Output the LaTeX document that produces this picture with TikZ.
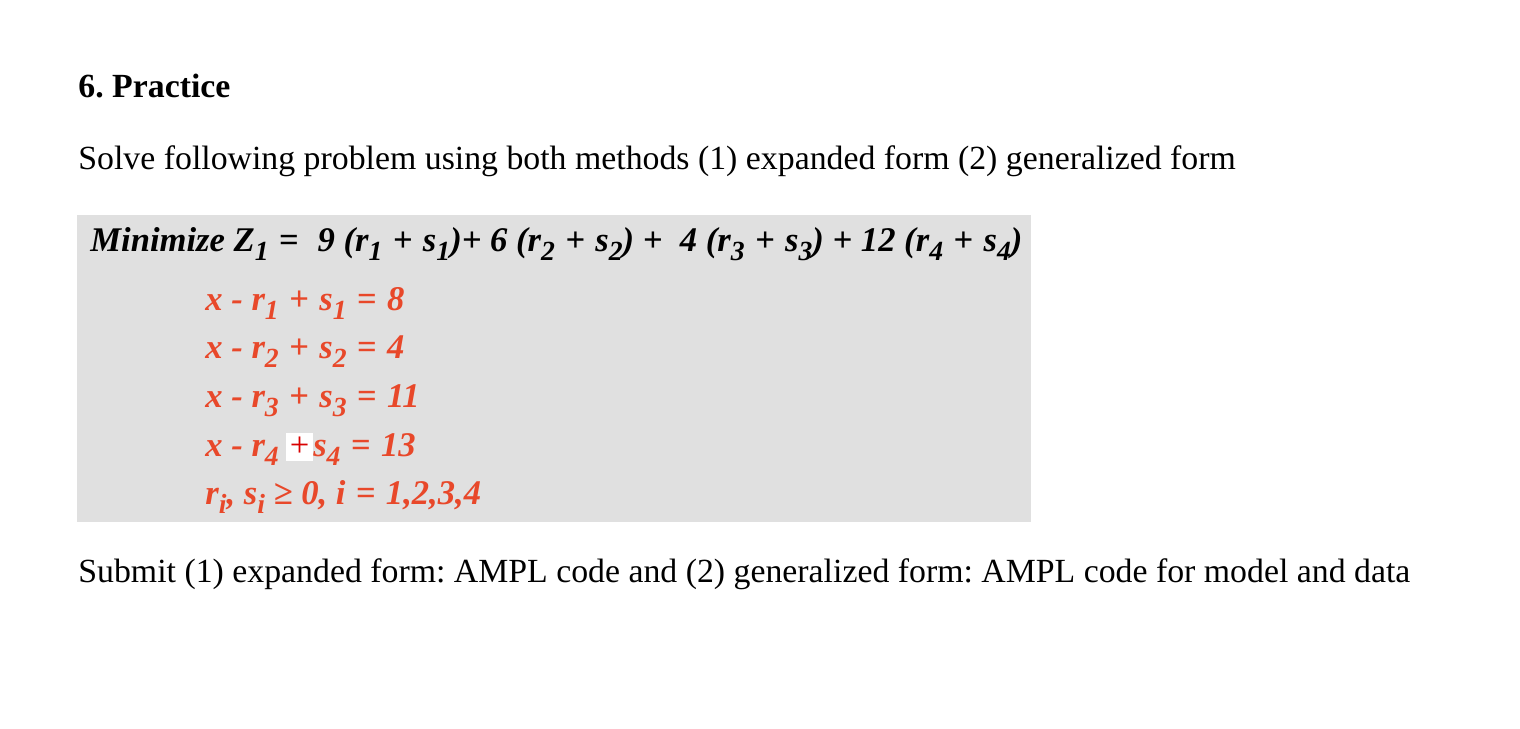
\documentclass[tikz,border=0pt]{standalone}
\usepackage{fontspec}
\setmainfont{Liberation Serif}
\frenchspacing
\definecolor{redeq}{HTML}{E8482A}
\definecolor{boxgray}{HTML}{E0E0E0}
\newcommand\sbx[1]{\raisebox{-0.55ex}{\scalebox{0.8}{#1}}}
\newcommand\pl{\hspace{0.3em}+\hspace{0.3em}}
\newcommand\eqs{\hspace{0.3em}=\hspace{0.3em}}
\tikzset{txt/.style={anchor=base west,inner sep=0pt,font=\fontsize{16.9}{20}\selectfont},
 eq/.style={anchor=base west,inner sep=0pt,text=redeq,font=\fontsize{17.3}{20}\selectfont\bfseries\itshape}}
\begin{document}
\begin{tikzpicture}[x=1pt,y=1pt]
\useasboundingbox (0,0) rectangle (760,364);
\fill[white] (0,0) rectangle (760,364);
\fill[boxgray] (38.5,103) rectangle (515.5,256.5);
\node[txt,font=\fontsize{16.9}{20}\selectfont\bfseries] (title) at (39,315) {6. Practice};
\node[txt] (solve) at (39,279) {Solve following problem using both methods (1) expanded form (2) generalized form};
\node[eq,text=black] (obj) at (45,238) {Minimize Z\sbx{1}\eqs\ 9 (r\sbx{1}\pl s\sbx{1})+ 6 (r\sbx{2}\pl s\sbx{2}) + \ 4 (r\sbx{3}\pl s\sbx{3}) + 12 (r\sbx{4}\pl s\sbx{4})};
\node[eq] (c1) at (102.5,208.5) {x - r\sbx{1}\pl s\sbx{1}\eqs 8};
\node[eq] (c2) at (102.5,184.5) {x - r\sbx{2}\pl s\sbx{2}\eqs 4};
\node[eq] (c3) at (102.5,160) {x - r\sbx{3}\pl s\sbx{3}\eqs 11};
\node[eq] (c4) at (102.5,135.5) {x - r\sbx{4}\hspace{0.2em}{\setlength\fboxsep{2pt}\colorbox{white}{\mdseries\upshape\textcolor{red!85!black}{+}}}s\sbx{4}\eqs 13};
\node[eq] (c5) at (102.5,111.5) {r\sbx{i}, s\sbx{i} ≥ 0, i\eqs 1,2,3,4};
\node[txt] (submit) at (39,72.5) {Submit (1) expanded form: AMPL code and (2) generalized form: AMPL code for model and data};
\end{tikzpicture}
\end{document}
